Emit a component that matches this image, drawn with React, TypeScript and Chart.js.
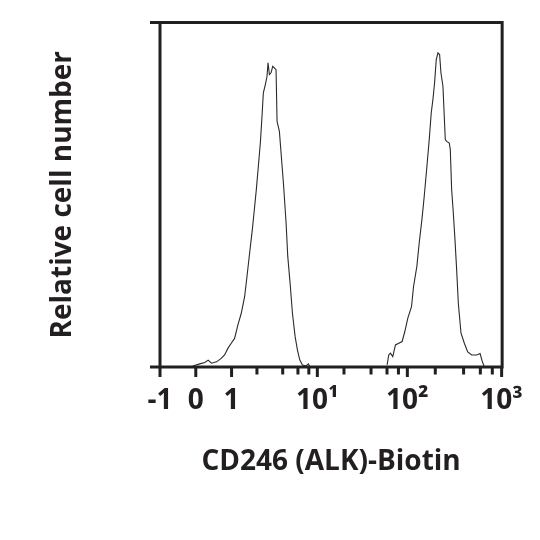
import React, { useEffect, useRef } from 'react';
import { Chart, registerables } from 'chart.js';

Chart.register(...registerables);

const INK = '#231f20';
const FONT = "'Open Sans', sans-serif";

// axis ticks (real intensity values) and their labels
const majorTickValues = [-1, 0, 1, 10, 100, 1000];
const majorTickLabels = ['-1', '0', '1', '10¹', '10²', '10³'];
const minorTickValues = [2, 4, 6, 8, 20, 40, 60, 80, 200, 400, 600, 800];

// histogram data, x in channels (0..1023), y in % of max
const peak1Channels = [98, 119, 134, 144, 154, 169, 183, 193, 203, 213, 223, 233, 243, 253, 260, 268, 276, 283, 288, 294, 300, 305, 309, 315, 320, 323, 327, 332, 337, 342, 347, 350, 357, 362, 369, 377, 382, 389, 396, 404, 411, 418, 426, 436, 444, 448];
const peak1Counts = [0.3, 0.9, 1.3, 2.0, 1.1, 1.5, 2.5, 3.5, 5.4, 6.9, 8.3, 12.2, 15.6, 20.4, 26.2, 33.1, 39.8, 46.6, 51.5, 58.2, 65.0, 72.8, 79.6, 82.0, 84.4, 88.3, 84.9, 85.4, 87.3, 86.8, 86.3, 71.3, 68.4, 62.1, 53.4, 41.8, 32.1, 24.3, 15.6, 8.8, 4.9, 2.0, 0.6, 0.3, 0.9, 0];

const peak2Channels = [679, 684, 689, 696, 704, 714, 724, 732, 741, 752, 758, 768, 775, 783, 790, 798, 805, 811, 816, 821, 826, 831, 836, 840, 846, 853, 857, 865, 868, 872, 877, 882, 887, 892, 900, 910, 920, 932, 947, 957, 964, 970];
const peak2Counts = [0.6, 3.5, 4.0, 3.0, 6.4, 6.9, 7.4, 10.3, 14.2, 17.5, 23.3, 29.2, 36.0, 42.7, 49.5, 58.2, 66.0, 73.8, 77.6, 82.5, 89.2, 91.2, 90.7, 85.4, 81.5, 66.0, 65.5, 65.0, 63.1, 51.5, 44.7, 36.9, 28.2, 18.5, 9.8, 6.9, 4.4, 3.5, 3.5, 3.9, 1.5, 0];

// biexponential-ish display transform: linear from -1 to 1, log above
const LIN = 107;
function toChannel(v: number): number {
  if (v <= 1) return LIN * (v + 1);
  const L = Math.log10(v);
  return LIN * (2 + 2.337 * L + 0.0595 * L * L);
}

const toPoints = (xs: number[], ys: number[]) => xs.map((x, i) => ({ x, y: ys[i] }));

// frame and tick marks
const framePlugin = {
  id: 'frame',
  afterDraw(chart: any) {
    const { ctx, chartArea } = chart;
    const { left, right, top, bottom } = chartArea;
    const x = chart.scales.x;
    ctx.save();
    ctx.strokeStyle = INK;
    ctx.lineWidth = 3;
    ctx.lineCap = 'butt';
    ctx.beginPath();
    ctx.moveTo(left - 10, top);
    ctx.lineTo(right + 1.5, top);
    ctx.moveTo(left - 10, bottom);
    ctx.lineTo(right + 1.5, bottom);
    ctx.moveTo(left, top);
    ctx.lineTo(left, bottom + 1.5);
    ctx.moveTo(right, top);
    ctx.lineTo(right, bottom);
    majorTickValues.forEach((v) => {
      const px = x.getPixelForValue(toChannel(v));
      ctx.moveTo(px, bottom);
      ctx.lineTo(px, bottom + 10);
    });
    minorTickValues.forEach((v) => {
      const px = x.getPixelForValue(toChannel(v));
      ctx.moveTo(px, bottom);
      ctx.lineTo(px, bottom + 7.5);
    });
    ctx.stroke();
    ctx.restore();
  },
};

const App = (): JSX.Element => {
  const canvasRef = useRef<HTMLCanvasElement>(null);
  const chartRef = useRef<Chart | null>(null);

  useEffect(() => {
    if (!canvasRef.current) return;
    if (chartRef.current) {
      chartRef.current.destroy();
      chartRef.current = null;
    }

    const line = {
      borderColor: '#2a2a2a',
      borderWidth: 1.1,
      pointRadius: 0,
      fill: false,
      tension: 0,
    };

    chartRef.current = new Chart(canvasRef.current, {
      type: 'line',
      data: {
        datasets: [
          { ...line, label: 'control', data: toPoints(peak1Channels, peak1Counts) },
          { ...line, label: 'CD246', data: toPoints(peak2Channels, peak2Counts) },
        ],
      },
      options: {
        animation: false,
        responsive: false,
        layout: { padding: { top: 22.5, right: 35.5, left: 0, bottom: 0 } },
        plugins: {
          legend: { display: false },
          tooltip: { enabled: false },
        },
        scales: {
          x: {
            type: 'linear',
            min: 0,
            max: 1023,
            grid: { display: false, drawTicks: false },
            border: { display: false },
            afterBuildTicks: (scale: any) => {
              scale.ticks = majorTickValues.map((v) => ({ value: toChannel(v) }));
            },
            afterFit: (scale: any) => {
              scale.height = 173;
            },
            ticks: {
              autoSkip: false,
              maxRotation: 0,
              padding: 17,
              color: INK,
              font: { family: FONT, size: 28, weight: '700' },
              callback: (_value: any, index: number) => majorTickLabels[index],
            },
            title: {
              display: true,
              text: 'CD246 (ALK)-Biotin',
              color: INK,
              font: { family: FONT, size: 28, weight: '700' },
              padding: { top: 0, bottom: 61 },
            },
          },
          y: {
            min: 0,
            max: 100,
            grid: { display: false, drawTicks: false },
            border: { display: false },
            ticks: { display: false },
            afterFit: (scale: any) => {
              scale.width = 160;
            },
            title: {
              display: true,
              text: 'Relative cell number',
              color: INK,
              font: { family: FONT, size: 28, weight: '700' },
              padding: { top: 46, bottom: 0 },
            },
          },
        },
      },
      plugins: [framePlugin],
    });

    return () => {
      if (chartRef.current) {
        chartRef.current.destroy();
        chartRef.current = null;
      }
    };
  }, []);

  return (
    <div style={{ position: 'absolute', left: 0, top: 0, width: 540, height: 540, background: '#fff' }}>
      <canvas ref={canvasRef} width={540} height={540} role="img" aria-label="CD246 (ALK)-Biotin histogram"></canvas>
    </div>
  );
};

export default App;
